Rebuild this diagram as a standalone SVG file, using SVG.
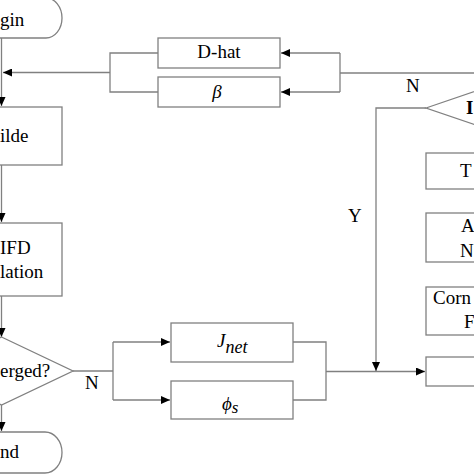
<svg xmlns="http://www.w3.org/2000/svg" width="474" height="474" viewBox="0 0 474 474">
<style>
.s{fill:#fff;stroke:#808080;stroke-width:1.3}
.c{fill:none;stroke:#808080;stroke-width:1.3}
text{font-family:"Liberation Serif","Times New Roman",serif;font-size:19px;fill:#000}
.i{font-style:italic}
</style>
<defs>
<marker id="a" markerWidth="9" markerHeight="8" refX="9" refY="4" orient="auto" markerUnits="userSpaceOnUse">
<path d="M0,0 L9,4 L0,8 Z" fill="#000"/>
</marker>
</defs>
<rect width="474" height="474" fill="#fff"/>
<g id="connectors">
<path class="c" d="M1.5,38 V106" marker-end="url(#a)"/>
<path class="c" d="M1.5,165 V222" marker-end="url(#a)"/>
<path class="c" d="M1.5,296 V337" marker-end="url(#a)"/>
<path class="c" d="M1.5,405 V431" marker-end="url(#a)"/>
<path class="c" d="M474,73 H340"/>
<path class="c" d="M340,53 V92"/>
<path class="c" d="M340,53 H281" marker-end="url(#a)"/>
<path class="c" d="M340,92 H281" marker-end="url(#a)"/>
<path class="c" d="M158,53 H110 V92 H158"/>
<path class="c" d="M110,72.5 H3" marker-end="url(#a)"/>
<path class="c" d="M73,371 H113"/>
<path class="c" d="M113,342 V400"/>
<path class="c" d="M113,342 H170" marker-end="url(#a)"/>
<path class="c" d="M113,400 H170" marker-end="url(#a)"/>
<path class="c" d="M293,342 H326 V400 H293"/>
<path class="c" d="M326,371.5 H425" marker-end="url(#a)"/>
<path class="c" d="M426,108 H376 V371" marker-end="url(#a)"/>
<text x="406" y="92">N</text>
<text x="348" y="222">Y</text>
<text x="85" y="389">N</text>
</g>
<g id="begin">
<path class="s" d="M-50,-2 H46 A16,20 0 0 1 46,38 H-50 Z"/>
<text x="0" y="26">gin</text>
</g>
<g id="tilde">
<rect class="s" x="-20" y="107" width="82" height="58"/>
<text x="0" y="142">ilde</text>
</g>
<g id="mfd">
<rect class="s" x="-20" y="223" width="82" height="73"/>
<text x="0" y="254">IFD</text>
<text x="0" y="278">lation</text>
</g>
<g id="converged">
<polygon class="s" points="1.5,337 73,371 1.5,405 -70,371"/>
<text x="0" y="377">erged?</text>
</g>
<g id="end">
<path class="s" d="M-50,432 H45 A17,20.5 0 0 1 45,473 H-50 Z"/>
<text x="0" y="458">nd</text>
</g>
<g id="dhat">
<rect class="s" x="158" y="38" width="122" height="30"/>
<text x="219" y="58" text-anchor="middle">D-hat</text>
</g>
<g id="beta">
<rect class="s" x="158" y="77" width="122" height="30"/>
<text x="217" y="98" text-anchor="middle" class="i">β</text>
</g>
<g id="jnet">
<rect class="s" x="171" y="323" width="122" height="39"/>
<text x="217" y="347" class="i" font-size="21">J<tspan font-size="18" dy="6">net</tspan></text>
</g>
<g id="phis">
<rect class="s" x="171" y="381" width="122" height="38"/>
<text x="222" y="410" class="i" font-size="23">ϕ<tspan font-size="17" dy="3">s</tspan></text>
</g>
<g id="decision">
<polygon class="s" points="426,108 520,76 614,108 520,140"/>
<text x="466" y="114" font-weight="bold">I</text>
</g>
<g id="tbox">
<rect class="s" x="426" y="153" width="60" height="36"/>
<text x="460" y="177">T</text>
</g>
<g id="abox">
<rect class="s" x="426" y="213" width="60" height="49"/>
<text x="461" y="232">A</text>
<text x="460" y="257">N</text>
</g>
<g id="cornbox">
<rect class="s" x="426" y="287" width="60" height="48"/>
<text x="433" y="304" font-size="20">Corn</text>
<text x="464" y="328">F</text>
</g>
<g id="lastbox">
<rect class="s" x="426" y="357" width="60" height="29"/>
</g>
</svg>
